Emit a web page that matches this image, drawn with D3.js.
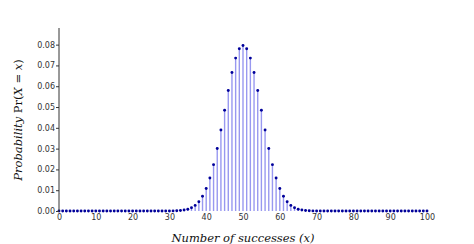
<!DOCTYPE html>
<html><head><meta charset="utf-8">
<script src="https://cdn.jsdelivr.net/npm/d3@7"></script>
<style>body{margin:0;background:#fff}svg{display:block}</style>
</head><body>
<script>
const successes = d3.range(0, 101);
const probability = [
0,0,0,0,0,0,0,0,0,0,
0,0,0,0,0,0,0,0,0,0,
0,0,0,0,0,0,0,0,0.000004,0.00001,
0.000023,0.000052,0.000113,0.000232,0.000458,0.000864,0.00156,0.002698,0.004473,0.007111,
0.010844,0.015869,0.022292,0.030069,0.038952,0.048474,0.057958,0.06659,0.073527,0.078029,
0.079589,
0.078029,0.073527,0.06659,0.057958,0.048474,0.038952,0.030069,0.022292,0.015869,0.010844,
0.007111,0.004473,0.002698,0.00156,0.000864,0.000458,0.000232,0.000113,0.000052,0.000023,
0.00001,0.000004,0,0,0,0,0,0,0,0,
0,0,0,0,0,0,0,0,0,0,
0,0,0,0,0,0,0,0,0,0];
const xTicks = [0,10,20,30,40,50,60,70,80,90,100];
const yTicks = [0,0.01,0.02,0.03,0.04,0.05,0.06,0.07,0.08];

const W = 474, H = 244;
const svg = d3.select("body").append("svg").attr("width", W).attr("height", H);
const x = d3.scaleLinear().domain([0, 100]).range([59, 427]);
const y = d3.scaleLinear().domain([0, 0.088]).range([211, 28]);

// stems
svg.append("g").selectAll("line").data(successes).join("line")
  .attr("x1", d => x(d)).attr("x2", d => x(d))
  .attr("y1", y(0)).attr("y2", (d, i) => y(probability[i]))
  .attr("stroke", "#9898f0").attr("stroke-width", 1.4);

// dots
svg.append("g").selectAll("circle").data(successes).join("circle")
  .attr("cx", d => x(d)).attr("cy", (d, i) => y(probability[i]))
  .attr("r", 1.45).attr("fill", "#00009a");

// y axis
const ya = svg.append("g").attr("transform", "translate(59,0)")
  .call(d3.axisLeft(y).tickValues(yTicks).tickFormat(d3.format(".2f")).tickSize(3).tickPadding(1));
ya.select(".domain").attr("d", `M0,${y(0)}V28`).attr("stroke", "#333");
ya.selectAll(".tick line").attr("stroke", "#333");
ya.selectAll("text").attr("font-family", "DejaVu Sans").attr("font-size", 8).attr("fill", "#333");

// x axis
const xa = svg.append("g").attr("transform", `translate(0,${y(0)})`)
  .call(d3.axisBottom(x).tickValues(xTicks).tickSize(0).tickPadding(3));
xa.select(".domain").remove();
xa.selectAll("text").attr("font-family", "DejaVu Sans").attr("font-size", 8).attr("fill", "#333");

// labels
const xl = svg.append("text").attr("x", 243).attr("y", 242).attr("text-anchor", "middle")
  .attr("font-family", "DejaVu Serif").attr("font-size", 11.5).attr("fill", "#111");
xl.append("tspan").attr("font-style", "italic").text("Number of successes (");
xl.append("tspan").attr("font-style", "italic").text("x");
xl.append("tspan").attr("font-style", "italic").text(")");

const yl = svg.append("text").attr("transform", "translate(22,120) rotate(-90)").attr("text-anchor", "middle")
  .attr("font-family", "DejaVu Serif").attr("font-size", 11.5).attr("fill", "#111");
yl.append("tspan").attr("font-style", "italic").text("Probability ");
yl.append("tspan").text("Pr(");
yl.append("tspan").attr("font-style", "italic").text("X");
yl.append("tspan").text(" = ");
yl.append("tspan").attr("font-style", "italic").text("x");
yl.append("tspan").text(")");
</script>
</body></html>
